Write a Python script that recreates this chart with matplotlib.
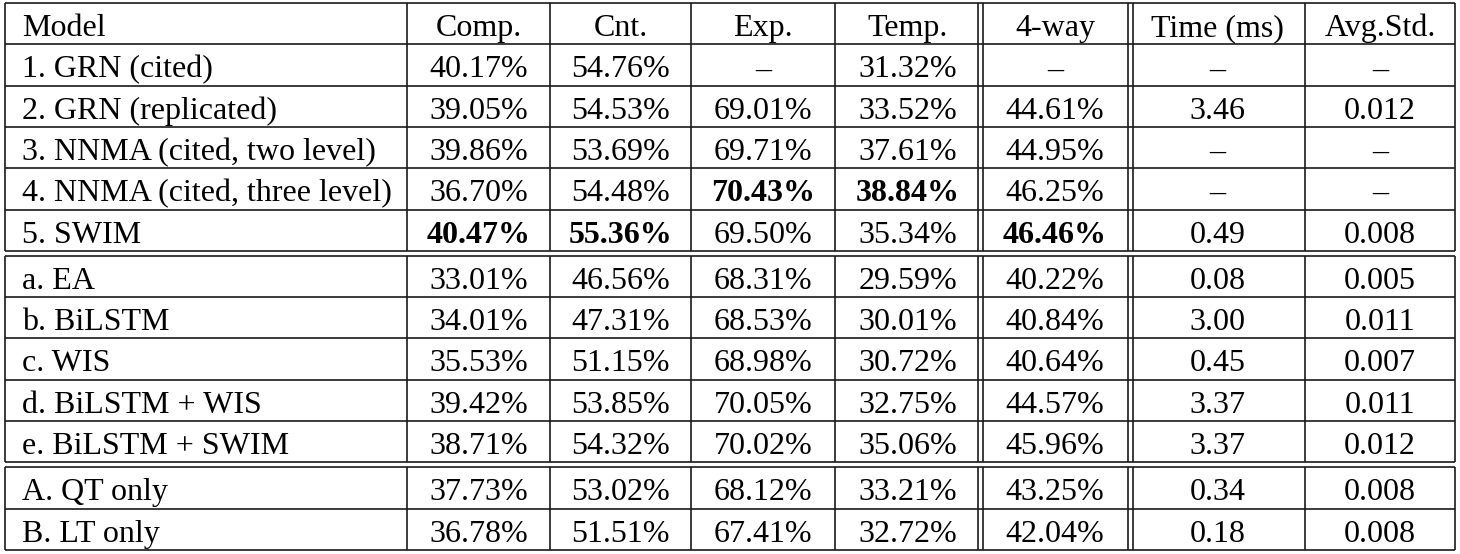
import matplotlib
matplotlib.use("Agg")
import matplotlib.pyplot as plt

headers = ["Model", "Comp.", "Cnt.", "Exp.", "Temp.", "4-way", "Time (ms)", "Avg.Std."]
models = ["1. GRN (cited)", "2. GRN (replicated)", "3. NNMA (cited, two level)",
          "4. NNMA (cited, three level)", "5. SWIM",
          "a. EA", "b. BiLSTM", "c. WIS", "d. BiLSTM + WIS", "e. BiLSTM + SWIM",
          "A. QT only", "B. LT only"]
comp = [40.17, 39.05, 39.86, 36.70, 40.47, 33.01, 34.01, 35.53, 39.42, 38.71, 37.73, 36.78]
cnt = [54.76, 54.53, 53.69, 54.48, 55.36, 46.56, 47.31, 51.15, 53.85, 54.32, 53.02, 51.51]
expl = [None, 69.01, 69.71, 70.43, 69.50, 68.31, 68.53, 68.98, 70.05, 70.02, 68.12, 67.41]
temp = [31.32, 33.52, 37.61, 38.84, 35.34, 29.59, 30.01, 30.72, 32.75, 35.06, 33.21, 32.72]
four_way = [None, 44.61, 44.95, 46.25, 46.46, 40.22, 40.84, 40.64, 44.57, 45.96, 43.25, 42.04]
time_ms = [None, 3.46, None, None, 0.49, 0.08, 3.00, 0.45, 3.37, 3.37, 0.34, 0.18]
avg_std = [None, 0.012, None, None, 0.008, 0.005, 0.011, 0.007, 0.011, 0.012, 0.008, 0.008]
group_sizes = [5, 5, 2]

# layout (pixels)
W, H = 1460, 554
col_edges = [5, 407, 550, 691, 835, 980, 1130, 1305, 1455]
double_cols = [5, 6]   # indices in col_edges drawn as double rules
top = 3
row_h = 41.3
gap = 5
fs = 23
lc = "#1a1a1a"
lw = 1.2

plt.rcParams["font.family"] = ["Liberation Serif", "DejaVu Serif"]

fig = plt.figure(figsize=(W / 100, H / 100), dpi=100)
ax = fig.add_axes([0, 0, 1, 1])
ax.set_xlim(0, W)
ax.set_ylim(H, 0)
ax.axis("off")


def fmt_pct(v):
    return "–" if v is None else f"{v:.2f}%"


def fmt_num(v, d):
    return "–" if v is None else f"{v:.{d}f}"


pct_cols = [comp, cnt, expl, temp, four_way]
best = [max(v for v in c if v is not None) for c in pct_cols]

rows = [(headers, [False] * 8)]
for i, m in enumerate(models):
    cells = [m] + [fmt_pct(c[i]) for c in pct_cols] + [fmt_num(time_ms[i], 2), fmt_num(avg_std[i], 3)]
    bold = [False] + [c[i] is not None and c[i] == b for c, b in zip(pct_cols, best)] + [False, False]
    rows.append((cells, bold))

# blocks: header + first group, then the other groups
blocks = [group_sizes[0] + 1] + group_sizes[1:]

y = top
r = 0
for bi, n in enumerate(blocks):
    y0 = y
    y1 = y0 + n * row_h
    # horizontal rules
    for k in range(n + 1):
        yy = y0 + k * row_h
        ax.plot([col_edges[0], col_edges[-1]], [yy, yy], color=lc, lw=lw, solid_capstyle="butt")
    # vertical rules
    for j, x in enumerate(col_edges):
        xs = [x - 2.5, x + 2.5] if j in double_cols else [x]
        for xx in xs:
            ax.plot([xx, xx], [y0, y1], color=lc, lw=lw, solid_capstyle="butt")
    # text
    for k in range(n):
        cells, bold = rows[r]
        yb = y0 + k * row_h + 0.8 * row_h
        for j, (txt, b) in enumerate(zip(cells, bold)):
            if j == 0:
                ax.text(col_edges[0] + 17, yb, txt, ha="left", va="baseline", fontsize=fs,
                        fontweight="bold" if b else "normal")
            else:
                xc = (col_edges[j] + col_edges[j + 1]) / 2
                ax.text(xc, yb, txt, ha="center", va="baseline", fontsize=fs,
                        fontweight="bold" if b else "normal")
        r += 1
    y = y1 + gap

fig.savefig("out.png", dpi=100)
